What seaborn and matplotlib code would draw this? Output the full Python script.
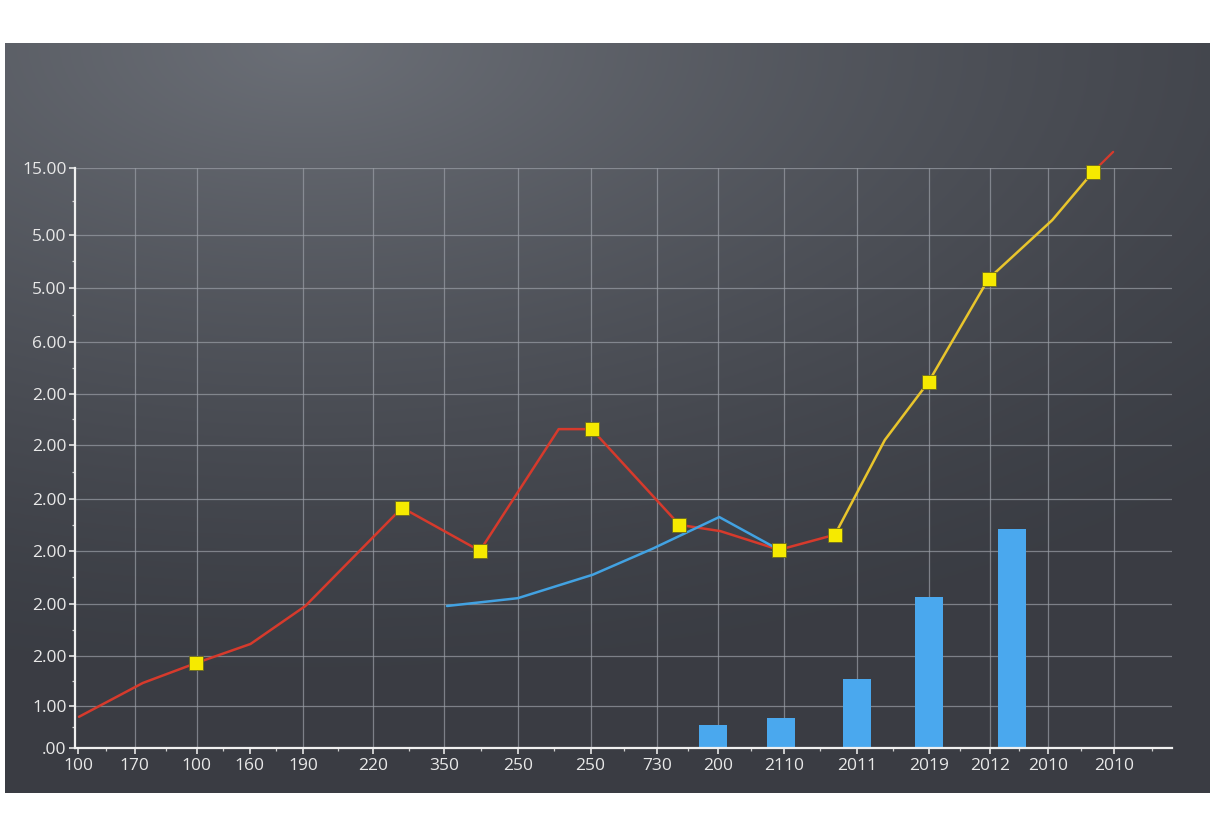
import numpy as np
import pandas as pd
import matplotlib
matplotlib.use("Agg")
import matplotlib.pyplot as plt
import seaborn as sns

# ---------------- data ----------------
x_tick_pos = [0.3, 6.0, 12.2, 17.5, 22.9, 29.9, 37.0, 44.4, 51.7, 58.4, 64.5,
              71.1, 78.4, 85.6, 91.8, 97.6, 104.2]
x_tick_labels = ["100", "170", "100", "160", "190", "220", "350", "250", "250",
                 "730", "200", "2110", "2011", "2019", "2012", "2010", "2010"]
y_tick_pos = [0.0, 0.81, 1.77, 2.77, 3.79, 4.79, 5.83, 6.81, 7.81, 8.85, 9.87, 11.15]
y_tick_labels = [".00", "1.00", "2.00", "2.00", "2.00", "2.00", "2.00", "2.00",
                 "6.00", "5.00", "5.00", "15.00"]

red_x = [0.4, 6.8, 12.1, 17.6, 23.1, 32.8, 40.6, 48.5, 51.8, 60.6, 64.7, 70.6, 76.2]
red_y = [0.60, 1.25, 1.63, 2.00, 2.73, 4.62, 3.79, 6.13, 6.13, 4.29, 4.17, 3.81, 4.10]

yellow_x = [76.2, 81.2, 85.6, 91.6, 98.0, 102.1]
yellow_y = [4.10, 5.92, 7.04, 9.02, 10.15, 11.08]

red_tail_x = [102.1, 104.1]
red_tail_y = [11.08, 11.46]

blue_x = [37.3, 44.4, 51.9, 57.9, 64.6, 70.6]
blue_y = [2.73, 2.88, 3.33, 3.83, 4.44, 3.81]

bar_x = [64.0, 70.8, 78.4, 85.6, 94.0]
bar_h = [0.44, 0.58, 1.33, 2.90, 4.21]

marker_x = [12.1, 32.8, 40.6, 51.8, 60.6, 70.6, 76.2, 85.6, 91.6, 102.1]
marker_y = [1.63, 4.62, 3.79, 6.13, 4.29, 3.81, 4.10, 7.04, 9.02, 11.08]

# ---------------- style ----------------
sns.set_theme(style="dark")
plt.rcParams['font.family'] = ['Open Sans', 'DejaVu Sans']

W, H = 1216, 832
fig = plt.figure(figsize=(W / 100, H / 100), dpi=100)
fig.patch.set_facecolor("white")

# gradient background panel
bg = fig.add_axes([5 / W, 1 - 793 / H, 1205 / W, 750 / H])
gx, gy = np.meshgrid(np.linspace(0, 1, 400), np.linspace(0, 1, 300))
d = np.sqrt(((gx - 0.25) / 1.05) ** 2 + ((gy - 0.0) / 0.85) ** 2)
t = np.clip(1 - d, 0, 1) ** 1.3
dark = np.array([0.228, 0.238, 0.265])
light = np.array([0.42, 0.435, 0.465])
img = dark[None, None, :] + t[..., None] * (light - dark)[None, None, :]
bg.imshow(img, aspect="auto", extent=[0, 1, 1, 0])
bg.set_axis_off()
bg.set_zorder(0)

ax = fig.add_axes([75 / W, 1 - 748 / H, (1172 - 75) / W, (748 - 168) / H])
ax.set_zorder(1)
ax.set_facecolor("none")

# bars
bars_df = pd.DataFrame({"x": bar_x, "h": bar_h})
ax.bar(bars_df["x"], bars_df["h"], width=2.8, color="#4aa8ee",
       edgecolor="none", linewidth=0, zorder=2)

# lines
red_df = pd.DataFrame({"x": red_x, "y": red_y})
sns.lineplot(data=red_df, x="x", y="y", sort=False, color="#d63a2c", lw=1.8,
             ax=ax, zorder=3)
tail_df = pd.DataFrame({"x": red_tail_x, "y": red_tail_y})
sns.lineplot(data=tail_df, x="x", y="y", sort=False, color="#d63a2c", lw=1.6,
             ax=ax, zorder=3, clip_on=False)
yel_df = pd.DataFrame({"x": yellow_x, "y": yellow_y})
sns.lineplot(data=yel_df, x="x", y="y", sort=False, color="#e9c52c", lw=1.8,
             ax=ax, zorder=3)
blue_df = pd.DataFrame({"x": blue_x, "y": blue_y})
sns.lineplot(data=blue_df, x="x", y="y", sort=False, color="#42a2e2", lw=1.8,
             ax=ax, zorder=4)

mk_df = pd.DataFrame({"x": marker_x, "y": marker_y})
sns.scatterplot(data=mk_df, x="x", y="y", marker="s", s=90, color="#f6ea00",
                edgecolor="#6b6a20", linewidth=0.6, ax=ax, zorder=5, clip_on=False)

# axes
ax.set_xlim(0, 110)
ax.set_ylim(0, 11.15)
ax.set_xlabel("")
ax.set_ylabel("")

ax.set_xticks(x_tick_pos)
ax.set_xticklabels(x_tick_labels)
ax.set_yticks(y_tick_pos)
ax.set_yticklabels(y_tick_labels)
ax.set_xticks([(a + b) / 2 for a, b in zip(x_tick_pos[:-1], x_tick_pos[1:])] + [108.0], minor=True)
ax.set_yticks([(a + b) / 2 for a, b in zip(y_tick_pos[:-1], y_tick_pos[1:])], minor=True)

ax.tick_params(axis="both", which="major", colors="#e6e6e6", labelcolor="#e8e8e8",
               labelsize=12.5, length=4, width=1.2, direction="out", pad=3)
ax.tick_params(axis="y", which="major", pad=2)
ax.tick_params(axis="both", which="minor", colors="#d0d0d0", length=2.5, width=0.9,
               direction="out")
ax.tick_params(axis="both", which="both", bottom=True, left=True)

# grid: horizontal at all major y; vertical at majors except a few
for yv in y_tick_pos[1:]:
    ax.axhline(yv, color="#9a9ea6", lw=0.9, alpha=0.7, zorder=1)
for i, xv in enumerate(x_tick_pos):
    if i in (0, 3):
        continue
    ax.axvline(xv, color="#9a9ea6", lw=0.9, alpha=0.7, zorder=1)
ax.grid(False)

for side in ("top", "right"):
    ax.spines[side].set_visible(False)
for side in ("left", "bottom"):
    ax.spines[side].set_visible(True)
    ax.spines[side].set_color("#f0f0f0")
    ax.spines[side].set_linewidth(1.6)

fig.savefig("out.png", dpi=100, facecolor=fig.get_facecolor())
